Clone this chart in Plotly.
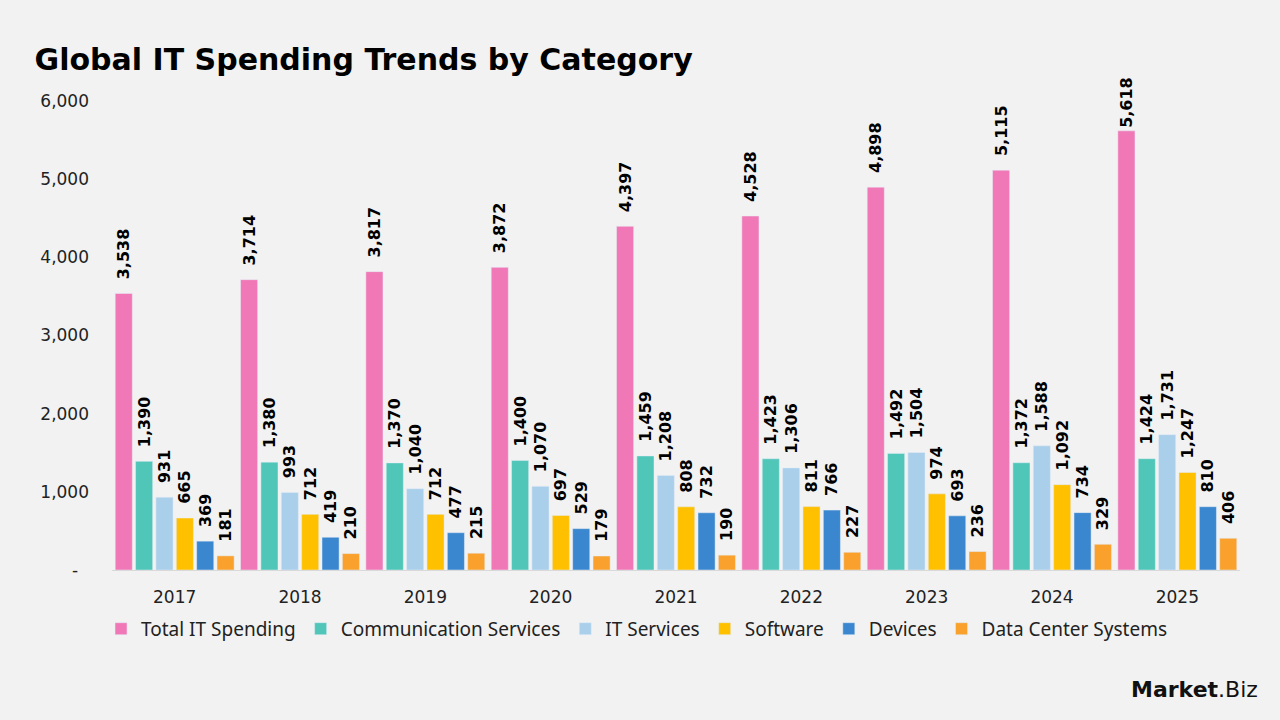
import plotly.graph_objects as go

years = ["2017", "2018", "2019", "2020", "2021", "2022", "2023", "2024", "2025"]
total_it = [3538, 3714, 3817, 3872, 4397, 4528, 4898, 5115, 5618]
communication = [1390, 1380, 1370, 1400, 1459, 1423, 1492, 1372, 1424]
it_services = [931, 993, 1040, 1070, 1208, 1306, 1504, 1588, 1731]
software = [665, 712, 712, 697, 808, 811, 974, 1092, 1247]
devices = [369, 419, 477, 529, 732, 766, 693, 734, 810]
data_center = [181, 210, 215, 179, 190, 227, 236, 329, 406]

series = [
    ("Total IT Spending", total_it, "#F178B6"),
    ("Communication Services", communication, "#4FC6B8"),
    ("IT Services", it_services, "#A9CFEB"),
    ("Software", software, "#FFC000"),
    ("Devices", devices, "#3A86CF"),
    ("Data Center Systems", data_center, "#F9A12C"),
]
y_max = 6000
y_ticks = [0, 1000, 2000, 3000, 4000, 5000, 6000]
y_tick_text = ["-\u00a0\u00a0", "1,000", "2,000", "3,000", "4,000", "5,000", "6,000"]


def label(v):
    # labels near the top of the axis sit tight against the bar
    pad = "" if v > 0.9 * y_max else "\u00a0\u00a0"
    return f"{pad}{v:,}"


fig = go.Figure()
for name, vals, color in series:
    fig.add_trace(go.Bar(
        name=name, x=years, y=vals, marker_color=color,
        text=[label(v) for v in vals], textposition="outside",
        textangle=-90, cliponaxis=False, constraintext="none",
        textfont=dict(family="DejaVu Sans", size=16, color="#000000", weight="bold"),
    ))

fig.update_layout(
    width=1280, height=720,
    paper_bgcolor="#F2F2F2", plot_bgcolor="#F2F2F2",
    barmode="group", bargap=0.025, bargroupgap=0.16,
    margin=dict(l=112, r=40, t=101, b=150),
    title=dict(text="<b>Global IT Spending Trends by Category</b>", x=0.027, xanchor="left",
               y=0.918, yanchor="middle",
               font=dict(family="DejaVu Sans", size=30, color="#000000")),
    font=dict(family="DejaVu Sans", color="#222222"),
    xaxis=dict(showgrid=False, showline=True, linecolor="#D9D9D9", linewidth=1,
               ticks="", ticklabelstandoff=12, tickfont=dict(size=17, color="#222222")),
    yaxis=dict(range=[0, y_max], tickvals=y_ticks, ticktext=y_tick_text, showgrid=False,
               zeroline=False, ticks="", ticklabelstandoff=22,
               tickfont=dict(size=17, color="#222222")),
    legend=dict(orientation="h", x=0.465, xanchor="center", y=-0.085, yanchor="top",
                font=dict(family="Noto Sans", size=19, color="#222222"),
                itemwidth=30, traceorder="normal"),
    uniformtext=dict(minsize=16, mode="show"),
)

fig.add_annotation(text="<b>Market</b>.Biz", xref="paper", yref="paper",
                   x=1.018, y=-0.255, xanchor="right", yanchor="middle", showarrow=False,
                   font=dict(family="DejaVu Sans", size=22, color="#111111"))

fig.write_html("out.html")
